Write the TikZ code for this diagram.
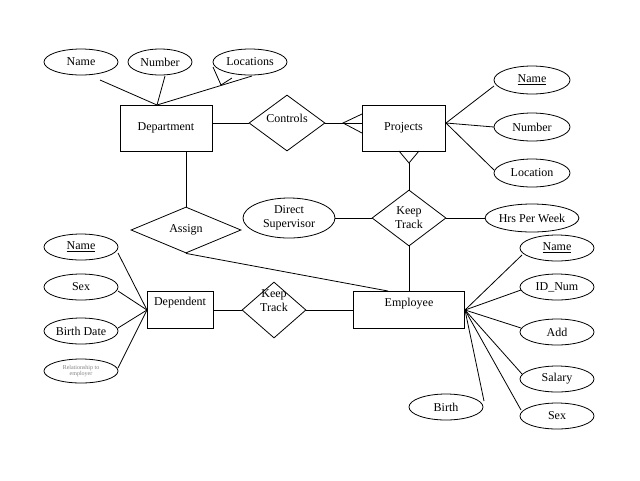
\documentclass[tikz,border=0pt]{standalone}
\usepackage{fontspec}
\setmainfont{Liberation Serif}
\usetikzlibrary{shapes.geometric}
\begin{document}
\begin{tikzpicture}[x=0.75pt,y=-0.75pt,line width=0.6pt,
  font=\fontsize{9}{10.5}\selectfont,
  att/.style={ellipse,draw,minimum width=74*0.75pt,minimum height=26*0.75pt,inner sep=0pt},
  ent/.style={draw,inner sep=0pt,align=center},
  rel/.style={diamond,draw,inner sep=0pt,aspect=1.4,align=center}]
\useasboundingbox (0,0) rectangle (640,480);
% Department side
\node[att] (dn) at (81,62) {Name};
\node[att,minimum width=64*0.75pt] (dnum) at (160,62) {Number};
\node[att] (dloc) at (250,62) {Locations};
\node[ent,minimum width=92*0.75pt,minimum height=46*0.75pt] (dep) at (166,128) {Department};
\coordinate (dtop) at (157,105);
\draw (100,80) -- (dtop);
\draw (165,76) -- (dtop);
\draw (dtop) -- (252,76);
\coordinate (lf) at (221,85);
\draw (213,67) -- (lf) -- (232,78);
% Controls
\node[draw,diamond,minimum width=76*0.75pt,minimum height=56*0.75pt,inner sep=0pt] (ctl) at (287,123) {};
\node at (287,118) {Controls};
\node[ent,minimum width=83*0.75pt,minimum height=46*0.75pt] (proj) at (403.5,128) {Projects};
\draw (212,123) -- (249,123);
\draw (325,123) -- (362,123);
\coordinate (cf) at (343,123);
\draw (362,114) -- (cf) -- (362,133);
% Projects attributes
\node[att,minimum width=76*0.75pt,minimum height=28*0.75pt] (pn) at (532,80) {\underline{Name}};
\node[att,minimum width=76*0.75pt,minimum height=28*0.75pt] (pnum) at (532,127) {Number};
\node[att,minimum width=76*0.75pt,minimum height=28*0.75pt] (ploc) at (532,173) {Location};
\coordinate (pf) at (446,123);
\draw (pf) -- (494,86);
\draw (pf) -- (494,127);
\draw (pf) -- (494,170);
% Keep Track (top)
\node[draw,diamond,minimum width=74*0.75pt,minimum height=56*0.75pt,inner sep=0pt] (kt) at (409,218) {};
\node[align=center] at (409,218) {Keep\\Track};
\coordinate (pb) at (409,163);
\draw (399,151) -- (pb) -- (419,151);
\draw (pb) -- (kt.north);
\node[att,minimum width=92*0.75pt,minimum height=40*0.75pt,align=center] (ds) at (289,218) {Direct\\Supervisor};
\draw (ds.east) -- (kt.west);
\node[att,minimum width=80*0.75pt,minimum height=28*0.75pt] (hrs) at (532,218) {Hrs Per Week};
\draw (kt.east) -- (hrs.west);
% Employee
\node[ent,minimum width=111*0.75pt,minimum height=37*0.75pt,anchor=north west] (emp) at (353,291) {};
\node at (409,304) {Employee};
\draw (kt.south) -- (409,291);
% Assign
\node[draw,diamond,minimum width=110*0.75pt,minimum height=46*0.75pt,inner sep=0pt] (asg) at (186,230) {};
\node at (186,230) {Assign};
\draw (186,151) -- (asg.north);
\draw (asg.south) -- (388,291);
% Dependent
\node[ent,minimum width=66*0.75pt,minimum height=37*0.75pt,anchor=north west] (dpd) at (147,291) {};
\node at (180,303) {Dependent};
\node[draw,diamond,minimum width=64*0.75pt,minimum height=56*0.75pt,inner sep=0pt] (kt2) at (274,310) {};
\node[align=center] at (274,301) {Keep\\Track};
\draw (213,310) -- (kt2.west);
\draw (kt2.east) -- (353,310);
% Dependent attributes
\node[att] (dpn) at (81,247) {\underline{Name}};
\node[att] (dps) at (81,287) {Sex};
\node[att] (dpb) at (81,331) {Birth Date};
\node[att,minimum height=24*0.75pt,align=center,text=gray,font=\fontsize{4.5}{5}\selectfont] (dpr) at (81,371) {Relationship to\\employer};
\coordinate (dpf) at (147,310);
\draw (118,253) -- (dpf);
\draw (118,291) -- (dpf);
\draw (118,328) -- (dpf);
\draw (118,368) -- (dpf);
% Employee attributes
\node[att] (en) at (557,248) {\underline{Name}};
\node[att] (eid) at (557,287) {ID\_Num};
\node[att] (ead) at (557,332) {Add};
\node[att] (esa) at (557,379) {Salary};
\node[att] (esx) at (557,416) {Sex};
\node[att] (ebi) at (446,407) {Birth};
\coordinate (ef) at (465,310);
\draw (ef) -- (522,255);
\draw (ef) -- (521,290);
\draw (ef) -- (521,328);
\draw (ef) -- (522,374);
\draw (ef) -- (521,410);
\draw (ef) -- (484,401);
\end{tikzpicture}
\end{document}
